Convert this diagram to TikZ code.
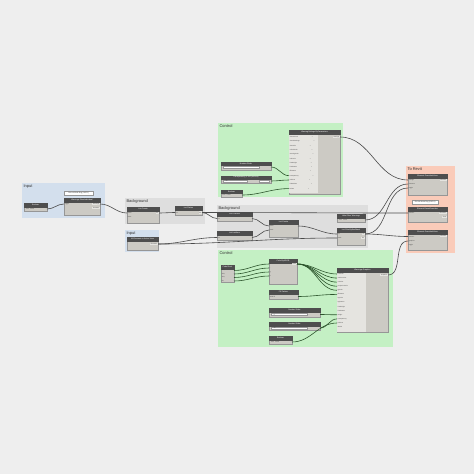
\documentclass[tikz,border=0pt]{standalone}
\usepackage{fontspec}
\setmainfont{Liberation Sans}
\usetikzlibrary{positioning, calc}

\tikzset{
  grp/.style={fill=#1, draw=none, anchor=north west, inner sep=0pt, outer sep=0pt},
  grptitle/.style={anchor=north west, inner sep=1.3pt, text=titleColor, font=\fontsize{4}{4}\selectfont},
  dbody/.style={fill=bodyColor, draw=edgeColor, line width=0.25pt, anchor=north west, inner sep=0pt, outer sep=0pt},
  dcol/.style={fill=portFill, draw=none, anchor=north west, inner sep=0pt, outer sep=0pt},
  dtrack/.style={fill=white, draw=edgeColor, line width=0.15pt, anchor=north west, inner sep=0pt, outer sep=0pt, minimum height=2},
  dhead/.style={fill=headColor, draw=headColor, line width=0.25pt, text=white, anchor=north west, inner sep=0pt, outer sep=0pt, minimum height=4, font=\fontsize{1.9}{1.9}\selectfont},
  dport/.style={anchor=west, inner sep=0.7pt, text=portColor, font=\fontsize{1.5}{1.5}\selectfont},
  dout/.style={anchor=east, fill=portFill, inner sep=0.7pt, text=portColor, font=\fontsize{1.5}{1.5}\selectfont},
  dnote/.style={fill=white, draw=edgeColor, line width=0.2pt, anchor=north west, inner sep=0pt, minimum height=4, text=portColor, font=\fontsize{1.7}{1.7}\selectfont},
  wire/.style={draw=wireColor, line width=0.6pt},
  gwire/.style={draw=gwireColor, line width=0.6pt},
}

\begin{document}
\begin{tikzpicture}[x=1pt,y=-1pt]
\definecolor{bgColor}{RGB}{238,238,238}
\definecolor{blueColor}{RGB}{211,223,237}
\definecolor{grayColor}{RGB}{222,222,222}
\definecolor{greenColor}{RGB}{196,240,196}
\definecolor{salmonColor}{RGB}{250,203,185}
\definecolor{titleColor}{RGB}{50,50,50}
\definecolor{bodyColor}{RGB}{204,202,196}
\definecolor{portFill}{RGB}{229,228,224}
\definecolor{headColor}{RGB}{78,78,78}
\definecolor{edgeColor}{RGB}{150,150,150}
\definecolor{portColor}{RGB}{60,60,60}
\definecolor{wireColor}{RGB}{75,75,75}
\definecolor{gwireColor}{RGB}{45,85,45}
\path[use as bounding box, fill=bgColor] (0,0) rectangle (474,474);

\node[grp=blueColor, minimum width=83, minimum height=35] (gInputA) at (22,183) {};
\node[grptitle] at (gInputA.north west) {Input};
\node[grp=grayColor, minimum width=80, minimum height=26] (gBackA) at (125,198) {};
\node[grptitle] at (gBackA.north west) {Background};
\node[grp=blueColor, minimum width=34, minimum height=22] (gInputB) at (125,230) {};
\node[grptitle] at (gInputB.north west) {Input};
\node[grp=greenColor, minimum width=125, minimum height=74] (gCtrlA) at (218,123) {};
\node[grptitle] at (gCtrlA.north west) {Control};
\node[grp=grayColor, minimum width=151, minimum height=43] (gBackB) at (217,205) {};
\node[grptitle] at (gBackB.north west) {Background};
\node[grp=greenColor, minimum width=175, minimum height=97] (gCtrlB) at (218,250) {};
\node[grptitle] at (gCtrlB.north west) {Control};
\node[grp=salmonColor, minimum width=49, minimum height=87] (gRevit) at (406,166) {};
\node[grptitle] at (gRevit.north west) {To Revit};

\node[dbody, minimum width=23, minimum height=8] (boolA) at (24,203) {};
\node[dhead, minimum width=23] at (boolA.north west) {Boolean};
\node[dport] at ($(boolA.north west)+(1,6)$) {True\quad False};
\node[dnote, minimum width=29] (noteA) at (64,191) {Current Mode Bug (LMO-1)};
\node[dbody, minimum width=36, minimum height=17] (warnA) at (64,198) {};
\node[dhead, minimum width=36] at (warnA.north west) {Warnings.ShowIndividual};
\node[dport] at ($(warnA.north west)+(0,6)$) {toggle};
\node[dout] at ($(warnA.north east)+(0,6)$) {warnings};
\node[dout] at ($(warnA.north east)+(0,10)$) {elements};

\node[dbody, minimum width=32, minimum height=16] (listA) at (127,207) {};
\node[dhead, minimum width=32] at (listA.north west) {List.Create};
\node[dport] at ($(listA.north west)+(0,6)$) {item0};
\node[dport] at ($(listA.north west)+(0,10)$) {item1};
\node[dout] at ($(listA.north east)+(0,6)$) {list};
\node[dbody, minimum width=27, minimum height=9] (flatA) at (175,206) {};
\node[dhead, minimum width=27] at (flatA.north west) {List.Flatten};
\node[dport] at ($(flatA.north west)+(0,6.5)$) {list};
\node[dout] at ($(flatA.north east)+(0,6.5)$) {list};

\node[dbody, minimum width=31, minimum height=13] (elemA) at (127,237) {};
\node[dhead, minimum width=31] at (elemA.north west) {All Elements in Active View};
\node[dout] at ($(elemA.north east)+(0,7)$) {Elements};

\node[dbody, minimum width=51, minimum height=64] (dataA) at (289,130) {};
\node[dcol, minimum width=29, minimum height=58] (dataCol) at ($(dataA.north west)+(0,4.5)$) {};
\node[dhead, minimum width=51] at (dataA.north west) {WarningSettings.ByParameters};
\foreach \lbl [count=\i] in {showCritical, showWarnings, showInfo, criticalColor, warningColor, infoColor, lineWeight, linePattern, fillPattern, transparency, halftone, hideOthers, isolate}
  \node[dport] at ($(dataA.north west)+(0,2.7+4.3*\i)$) {\lbl\hspace{14pt}>};
\node[dout] at ($(dataA.north east)+(0,7)$) {Settings};

\node[dbody, minimum width=50, minimum height=8] (sldA) at (221,162) {};
\node[dhead, minimum width=50, minimum height=3] at (sldA.north west) {Number Slider};
\node[dtrack, minimum width=36] (sldAtrack) at ($(sldA.north west)+(2,4.5)$) {};
\node[dbody, minimum width=50, minimum height=7] (sldB) at (221,176) {};
\node[dhead, minimum width=50, minimum height=3] at (sldB.north west) {Transparency (0-100 percent)};
\node[dtrack, minimum width=24] (sldBtrack) at ($(sldB.north west)+(2,4)$) {};
\node[dport] at ($(sldB.north west)+(4,5)$) {50};
\node[dtrack, minimum width=10] (sldBval) at ($(sldB.north west)+(38,4)$) {};
\node[dbody, minimum width=21, minimum height=7] (boolB) at (221,190) {};
\node[dhead, minimum width=21, minimum height=3] at (boolB.north west) {Boolean};
\node[dport] at ($(boolB.north west)+(0.5,5)$) {True\quad False};

\node[dbody, minimum width=35, minimum height=9] (firstA) at (217,212) {};
\node[dhead, minimum width=35] at (firstA.north west) {List.FirstItem};
\node[dport] at ($(firstA.north west)+(0,6.5)$) {list};
\node[dbody, minimum width=35, minimum height=9] (lastA) at (217,231) {};
\node[dhead, minimum width=35] at (lastA.north west) {List.LastItem};
\node[dport] at ($(lastA.north west)+(0,6.5)$) {list};
\node[dbody, minimum width=29, minimum height=17] (combA) at (269,220) {};
\node[dhead, minimum width=29] at (combA.north west) {List.Create};
\node[dport] at ($(combA.north west)+(0,6)$) {item0};
\node[dport] at ($(combA.north west)+(0,10)$) {item1};
\node[dbody, minimum width=28, minimum height=8] (boolC) at (337,214) {};
\node[dhead, minimum width=28] at (boolC.north west) {Hide Other Warnings};
\node[dport] at ($(boolC.north west)+(1,6)$) {True\quad False};
\node[dbody, minimum width=28, minimum height=17] (maskA) at (337,228) {};
\node[dhead, minimum width=28] at (maskA.north west) {List.FilterByBoolMask};
\node[dport] at ($(maskA.north west)+(0,6)$) {list};
\node[dport] at ($(maskA.north west)+(0,10)$) {mask};
\node[dout] at ($(maskA.north east)+(0,6)$) {in};
\node[dout] at ($(maskA.north east)+(0,10)$) {out};

\node[dbody, minimum width=13, minimum height=17] (codeA) at (221,265) {};
\node[dhead, minimum width=13] at (codeA.north west) {Code Block};
\foreach \lbl [count=\i] in {255;, 200;, 120;, 60;}
  \node[dport] at ($(codeA.north west)+(0,2+3.5*\i)$) {\lbl};
\node[dbody, minimum width=28, minimum height=25] (argbA) at (269,259) {};
\node[dhead, minimum width=28] at (argbA.north west) {Color.ByARGB};
\foreach \lbl [count=\i] in {a, r, g, b}
  \node[dport] at ($(argbA.north west)+(0,1+4*\i)$) {\lbl};
\node[dout] at ($(argbA.north east)+(0,5)$) {Color};
\node[dbody, minimum width=29, minimum height=9] (strA) at (269,290) {};
\node[dhead, minimum width=29] at (strA.north west) {Fill Pattern};
\node[dport] at ($(strA.north west)+(0,6.5)$) {Solid fill};
\node[dbody, minimum width=51, minimum height=9] (sldC) at (269,308) {};
\node[dhead, minimum width=51] at (sldC.north west) {Number Slider};
\node[dtrack, minimum width=36] (sldCtrack) at ($(sldC.north west)+(2,5.5)$) {};
\node[dport] at ($(sldC.north west)+(4,6.5)$) {5};
\node[dbody, minimum width=51, minimum height=8] (sldD) at (269,322) {};
\node[dhead, minimum width=51] at (sldD.north west) {Number Slider};
\node[dtrack, minimum width=36] (sldDtrack) at ($(sldD.north west)+(2,5)$) {};
\node[dport] at ($(sldD.north west)+(4,6)$) {60};
\node[dbody, minimum width=23, minimum height=8] (boolD) at (269,336) {};
\node[dhead, minimum width=23] at (boolD.north west) {Boolean};
\node[dport] at ($(boolD.north west)+(1,6)$) {True\quad False};

\node[dbody, minimum width=51, minimum height=64] (grafA) at (337,268) {};
\node[dcol, minimum width=29, minimum height=59] (grafCol) at ($(grafA.north west)+(0,4.5)$) {};
\node[dhead, minimum width=51] at (grafA.north west) {Warnings.Graphics};
\foreach \lbl [count=\i] in {lineColor, surfaceColor, cutColor, projectionColor, fgColor, fillPattern, bgColor, bgPattern, lineWeight, linePattern, weight, transparency, halftone, details}
  \node[dport] at ($(grafA.north west)+(0,1.9+4.08*\i)$) {\lbl};
\node[dout] at ($(grafA.north east)+(0,7)$) {Graphics};

\node[dbody, minimum width=39, minimum height=21] (revA) at (408,174) {};
\node[dhead, minimum width=39] at (revA.north west) {Element.OverrideInView};
\foreach \lbl [count=\i] in {settings, elements, toggle}
  \node[dport] at ($(revA.north west)+(0,2+4*\i)$) {\lbl};
\node[dout] at ($(revA.north east)+(0,6)$) {Element};
\node[dnote, minimum width=26] (noteB) at (412,200) {Current Mode Bug (LMO-1)};
\node[dbody, minimum width=39, minimum height=15] (revB) at (408,207) {};
\node[dhead, minimum width=39] at (revB.north west) {Element.ResetOverrides};
\node[dport] at ($(revB.north west)+(0,6)$) {element};
\node[dout] at ($(revB.north east)+(0,6)$) {Elements};
\node[dout] at ($(revB.north east)+(0,10)$) {View};
\node[dbody, minimum width=39, minimum height=20] (revC) at (408,230) {};
\node[dhead, minimum width=39] at (revC.north west) {Element.OverrideInView};
\foreach \lbl [count=\i] in {element, graphics, toggle}
  \node[dport] at ($(revC.north west)+(0,2+4.5*\i)$) {\lbl};
\node[dout] at ($(revC.north east)+(0,6)$) {Element};

\draw[wire] ($(boolA.north east)+(0,6)$) to[out=0,in=180] ($(warnA.north west)+(0,6)$);
\draw[wire] ($(warnA.north east)+(0,6)$) to[out=0,in=180] ($(listA.north west)+(0,6)$);
\draw[wire] ($(listA.north east)+(0,6)$) to[out=0,in=180] ($(flatA.north west)+(0,6.5)$);
\draw[wire] ($(flatA.north east)+(0,6.5)$) to[out=0,in=180] ($(firstA.north west)+(0,6.5)$);
\draw[wire] ($(flatA.north east)+(0,6.5)$) to[out=0,in=180] ($(revB.north west)+(0,6)$);
\draw[wire] ($(elemA.north east)+(0,7)$) to[out=0,in=180] ($(lastA.north west)+(0,6.5)$);
\draw[wire] ($(elemA.north east)+(0,7)$) to[out=0,in=180] ($(maskA.north west)+(0,10)$);
\draw[wire] ($(firstA.north east)+(0,6.5)$) to[out=0,in=180] ($(combA.north west)+(0,6)$);
\draw[wire] ($(lastA.north east)+(0,6.5)$) to[out=0,in=180] ($(combA.north west)+(0,10)$);
\draw[wire] ($(combA.north east)+(0,6)$) to[out=0,in=180] ($(maskA.north west)+(0,6)$);
\draw[wire] ($(boolC.north east)+(0,6)$) to[out=0,in=180] ($(revA.north west)+(0,10)$);
\draw[wire] ($(maskA.north east)+(0,6)$) to[out=0,in=180] ($(revA.north west)+(0,14)$);
\draw[wire] ($(maskA.north east)+(0,6)$) to[out=0,in=180] ($(revC.north west)+(0,6.5)$);
\draw[wire] ($(dataA.north east)+(0,7)$) to[out=0,in=180] ($(revA.north west)+(0,6)$);
\draw[wire] ($(grafA.north east)+(0,7)$) to[out=0,in=180] ($(revC.north west)+(0,11)$);

\draw[gwire] ($(sldA.north east)+(0,5)$) to[out=0,in=180] ($(dataA.north west)+(0,45.7)$);
\draw[gwire] ($(sldB.north east)+(0,5)$) to[out=0,in=180] ($(dataA.north west)+(0,50)$);
\draw[gwire] ($(boolB.north east)+(0,5)$) to[out=0,in=180] ($(dataA.north west)+(0,58.6)$);
\foreach \i in {1,...,4}
  \draw[gwire] ($(codeA.north east)+(0,2+3.5*\i)$) to[out=0,in=180] ($(argbA.north west)+(0,1+4*\i)$);
\foreach \i in {1,...,5}
  \draw[gwire] ($(argbA.north east)+(0,5)$) to[out=0,in=180] ($(grafA.north west)+(0,1.9+4.08*\i)$);
\draw[gwire] ($(strA.north east)+(0,6.5)$) to[out=0,in=180] ($(grafA.north west)+(0,26.4)$);
\draw[gwire] ($(sldC.north east)+(0,6.5)$) to[out=0,in=180] ($(grafA.north west)+(0,46.8)$);
\draw[gwire] ($(sldD.north east)+(0,6)$) to[out=0,in=180] ($(grafA.north west)+(0,50.9)$);
\draw[gwire] ($(boolD.north east)+(0,6)$) to[out=0,in=180] ($(grafA.north west)+(0,55)$);
\end{tikzpicture}
\end{document}
